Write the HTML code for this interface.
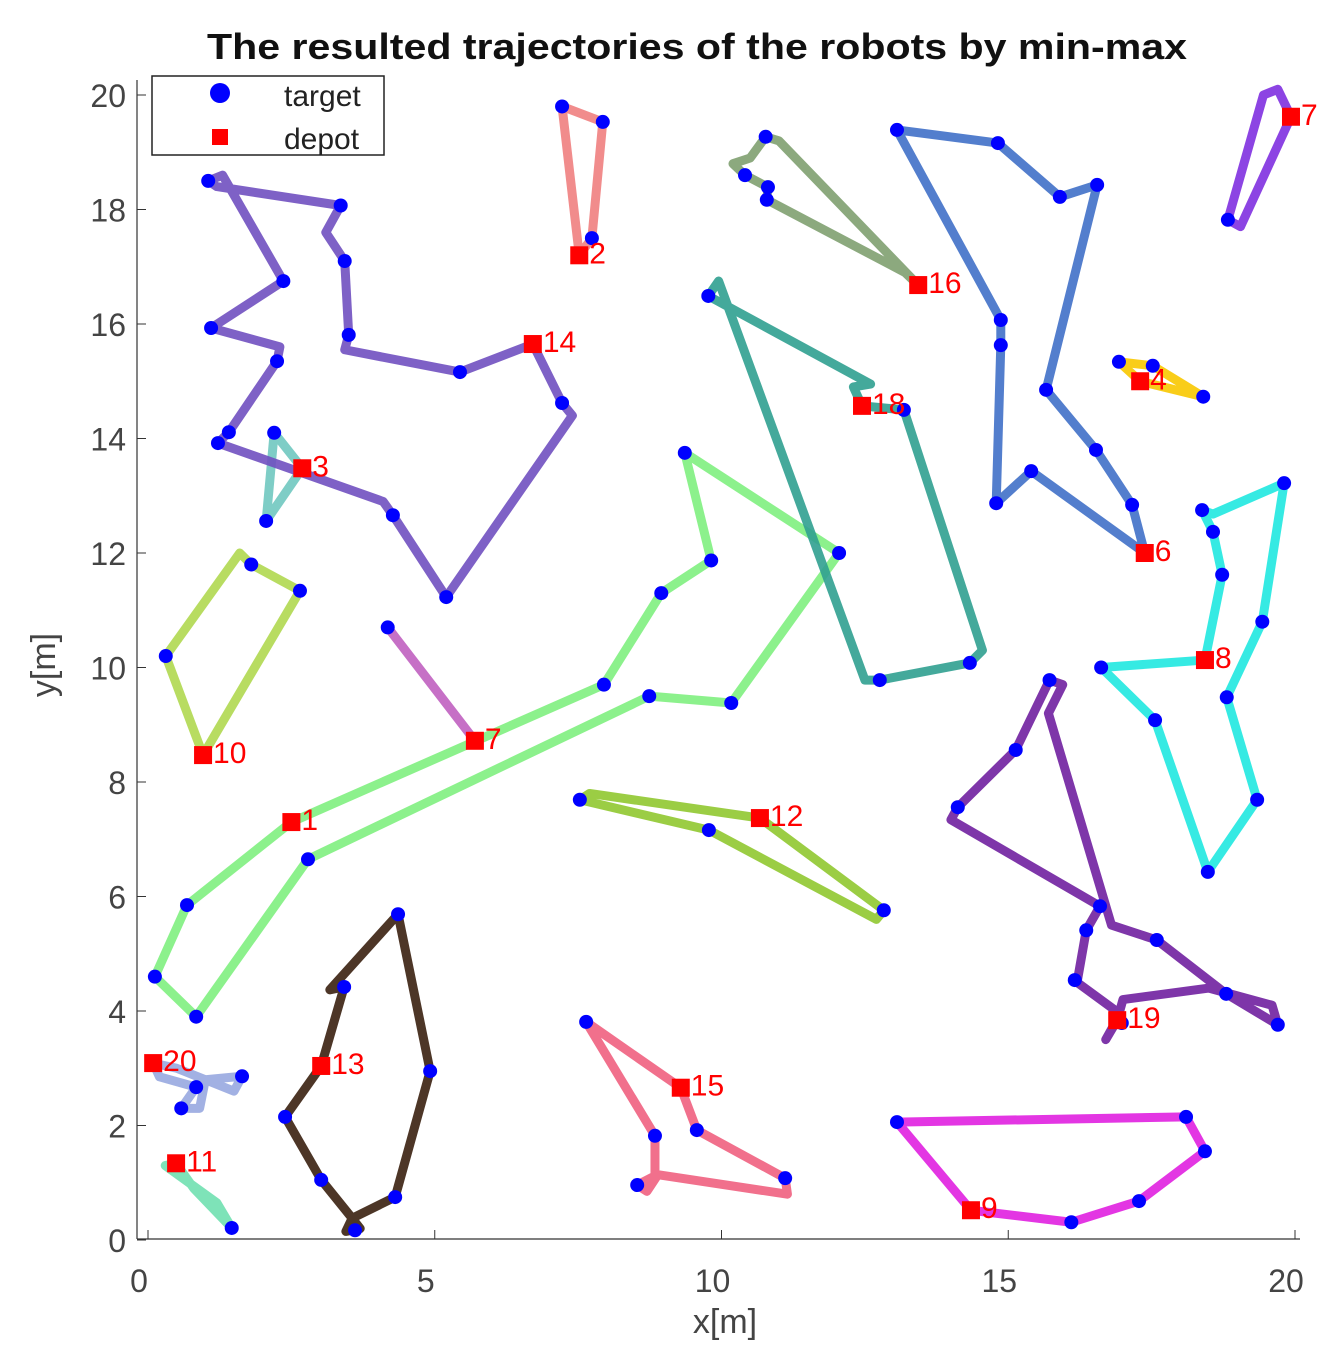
<!DOCTYPE html>
<html><head><meta charset="utf-8"><style>
body{margin:0;background:#fff;}
svg{display:block;font-family:"Liberation Sans",sans-serif;}
</style></head><body>
<svg id="chart" width="1344" height="1363" viewBox="0 0 1344 1363" xmlns="http://www.w3.org/2000/svg">
<rect width="1344" height="1363" fill="#fff"/>
<text x="697" y="59" text-anchor="middle" font-size="36" font-weight="bold" fill="#111" textLength="980" lengthAdjust="spacingAndGlyphs">The resulted trajectories of the robots by min-max</text>
<g id="axes"></g>
<g id="paths"></g>
<g id="targets"></g>
<g id="depots"></g>
<g>
<rect x="152" y="76" width="232" height="79" fill="#fff" stroke="#222" stroke-width="1.5"/>
<circle cx="220" cy="93" r="10" fill="#0000ff"/>
<text x="284" y="106" font-size="30" fill="#222">target</text>
<rect x="212" y="129" width="16" height="16" fill="#f00"/>
<text x="284" y="149" font-size="30" fill="#222">depot</text>
</g>
<text x="725" y="1333" text-anchor="middle" font-size="34" fill="#444">x[m]</text>
<text transform="translate(55,665) rotate(-90)" text-anchor="middle" font-size="34" fill="#444">y[m]</text>
</svg>
<script>
const xTicks=[0,5,10,15,20];
const yTicks=[0,2,4,6,8,10,12,14,16,18,20];
const robotIds=["1","2","3","4","6","7","7b","8","9","10","11","12","13","14","15","16","18","19","20"];
const robotLabels=["1","2","3","4","6","7","7","8","9","10","11","12","13","14","15","16","18","19","20"];
const robotColors=["#80f080","#f08080","#70c8c0","#f8c800","#4070c8","#8030e0","#c060c0","#20e8e0","#e020e0","#b0d850","#70e0b0","#90c830","#3a2010","#7050c0","#f06080","#80a070","#30a090","#7020a0","#98a8e0"];
const depots=[[2.5,7.3],[7.52,17.2],[2.69,13.48],[17.3,15.0],[17.38,12.0],[19.93,19.62],[5.7,8.72],[18.43,10.13],[14.35,0.52],[0.96,8.47],[0.49,1.34],[10.67,7.37],[3.02,3.04],[6.71,15.65],[9.29,2.66],[13.43,16.68],[12.45,14.57],[16.9,3.84],[0.09,3.09]];
const paths=[
[[2.5,7.3],[0.68,5.85],[0.12,4.6],[0.84,3.9],[2.79,6.65],[8.74,9.5],[10.17,9.38],[12.05,12.0],[9.36,13.75],[9.82,11.87],[8.95,11.3],[7.95,9.7],[2.5,7.3]],
[[7.52,17.2],[7.74,17.5],[7.93,19.53],[7.22,19.8],[7.52,17.2]],
[[2.69,13.48],[2.2,14.1],[2.06,12.56],[2.69,13.48]],
[[17.3,15.0],[16.93,15.34],[17.52,15.27],[18.4,14.73],[17.3,15.0]],
[[17.38,12.0],[17.16,12.84],[16.53,13.8],[15.66,14.85],[16.55,18.43],[15.9,18.22],[14.82,19.16],[13.06,19.39],[14.87,16.07],[14.87,15.63],[14.79,12.87],[15.4,13.43],[17.38,12.0]],
[[19.93,19.62],[19.7,20.1],[19.45,20.0],[18.83,17.82],[19.05,17.7],[19.93,19.62]],
[[5.7,8.72],[4.18,10.7],[5.7,8.72]],
[[18.43,10.13],[16.62,10.0],[17.56,9.08],[18.48,6.43],[19.34,7.69],[18.81,9.48],[19.43,10.8],[19.81,13.22],[18.57,12.68],[18.38,12.75],[18.57,12.37],[18.73,11.62],[18.43,10.13]],
[[14.35,0.52],[16.1,0.31],[17.28,0.68],[18.43,1.55],[18.1,2.15],[13.06,2.06],[14.35,0.52]],
[[0.96,8.47],[0.31,10.2],[1.6,12.0],[1.8,11.8],[2.65,11.34],[0.96,8.47]],
[[0.49,1.34],[0.3,1.3],[1.2,0.65],[1.46,0.21],[0.8,0.9],[0.49,1.34]],
[[10.67,7.37],[12.83,5.76],[12.7,5.6],[9.78,7.16],[7.53,7.69],[7.7,7.8],[10.67,7.37]],
[[3.02,3.04],[2.39,2.15],[3.02,1.05],[3.56,0.38],[3.45,0.15],[3.7,0.2],[3.56,0.38],[4.31,0.75],[4.92,2.95],[4.36,5.69],[3.17,4.37],[3.42,4.42],[3.02,3.04]],
[[6.71,15.65],[7.22,14.62],[7.4,14.4],[5.2,11.23],[4.27,12.66],[4.1,12.9],[1.22,13.92],[1.41,14.11],[2.25,15.35],[2.3,15.6],[1.1,15.93],[2.36,16.75],[1.3,18.6],[1.05,18.5],[1.2,18.4],[3.36,18.07],[3.1,17.6],[3.43,17.1],[3.5,15.81],[3.43,15.55],[5.44,15.16],[6.71,15.65]],
[[9.29,2.66],[9.57,1.92],[11.11,1.08],[11.15,0.8],[8.89,1.14],[8.7,0.85],[8.53,0.96],[8.84,1.12],[8.84,1.82],[7.64,3.81],[9.29,2.66]],
[[13.43,16.68],[13.2,16.9],[10.79,18.17],[10.81,18.39],[10.41,18.6],[10.2,18.8],[10.5,18.9],[10.77,19.27],[11.0,19.2],[13.43,16.68]],
[[12.45,14.57],[12.3,14.9],[12.6,14.95],[9.77,16.49],[9.95,16.75],[12.5,9.78],[12.76,9.78],[14.33,10.08],[14.55,10.3],[13.18,14.5],[12.45,14.57]],
[[16.9,3.84],[16.7,3.5],[16.95,3.95],[16.2,4.5],[16.36,5.41],[16.6,5.83],[14.0,7.34],[14.12,7.56],[15.13,8.56],[15.72,9.78],[15.95,9.7],[15.7,9.2],[16.8,5.5],[17.59,5.24],[18.8,4.3],[19.7,3.76],[19.6,4.1],[18.5,4.4],[17.0,4.2],[16.9,3.84]],
[[0.09,3.09],[0.2,2.85],[0.84,2.67],[0.58,2.3],[0.9,2.3],[1.0,2.8],[1.64,2.86],[1.5,2.6],[0.5,3.0],[0.09,3.09]]
];
const targets=[[0.68,5.85],[0.12,4.6],[0.84,3.9],[2.79,6.65],[8.74,9.5],[10.17,9.38],[12.05,12.0],[9.36,13.75],[9.82,11.87],[8.95,11.3],[7.95,9.7],
[7.74,17.5],[7.93,19.53],[7.22,19.8],[2.2,14.1],[2.06,12.56],[16.93,15.34],[17.52,15.27],[18.4,14.73],
[17.16,12.84],[16.53,13.8],[15.66,14.85],[16.55,18.43],[15.9,18.22],[14.82,19.16],[13.06,19.39],[14.87,16.07],[14.87,15.63],[14.79,12.87],[15.4,13.43],
[18.83,17.82],[4.18,10.7],[16.62,10.0],[17.56,9.08],[18.48,6.43],[19.34,7.69],[18.81,9.48],[19.43,10.8],[19.81,13.22],[18.38,12.75],[18.57,12.37],[18.73,11.62],
[16.1,0.31],[17.28,0.68],[18.43,1.55],[18.1,2.15],[13.06,2.06],[0.31,10.2],[1.8,11.8],[2.65,11.34],[1.46,0.21],
[12.83,5.76],[9.78,7.16],[7.53,7.69],[2.39,2.15],[3.02,1.05],[3.61,0.17],[4.31,0.75],[4.92,2.95],[4.36,5.69],[3.42,4.42],
[7.22,14.62],[5.2,11.23],[4.27,12.66],[1.22,13.92],[1.41,14.11],[2.25,15.35],[1.1,15.93],[2.36,16.75],[1.05,18.5],[3.36,18.07],[3.43,17.1],[3.5,15.81],[5.44,15.16],
[9.57,1.92],[11.11,1.08],[8.53,0.96],[8.84,1.82],[7.64,3.81],[10.79,18.17],[10.81,18.39],[10.41,18.6],[10.77,19.27],
[9.77,16.49],[12.76,9.78],[14.33,10.08],[13.18,14.5],
[16.98,3.79],[16.16,4.54],[16.36,5.41],[16.6,5.83],[14.12,7.56],[15.13,8.56],[15.72,9.78],[17.59,5.24],[18.8,4.3],[19.7,3.76],
[0.84,2.67],[0.58,2.3],[1.64,2.86]];

const X=v=>148+v*57.35, Y=v=>1240-v*57.25;
const NS="http://www.w3.org/2000/svg";
function mk(tag,attrs,parent){const e=document.createElementNS(NS,tag);for(const k in attrs)e.setAttribute(k,attrs[k]);parent.appendChild(e);return e;}
const ax=document.getElementById('axes');
const xl=mk('line',{x1:137,y1:1239,x2:1300,y2:1239,stroke:'#333','stroke-width':1.2},ax);


const yl=mk('line',{x1:137,y1:1239,x2:137,y2:80,stroke:'#333','stroke-width':1.2},ax);


xTicks.forEach(t=>{
 mk('line',{x1:X(t),y1:1239,x2:X(t),y2:1230,stroke:'#333','stroke-width':1},ax);
 const tx=mk('text',{x:X(t)-9,y:1292,'text-anchor':'middle','font-size':32,fill:'#444'},ax);
 tx.textContent=t;
 
 
});
yTicks.forEach(t=>{
 mk('line',{x1:137,y1:Y(t),x2:146,y2:Y(t),stroke:'#333','stroke-width':1},ax);
 const tx=mk('text',{x:126,y:Y(t)+12,'text-anchor':'end','font-size':32,fill:'#444'},ax);
 tx.textContent=t;
 
 
});
const pg=document.getElementById('paths');
paths.forEach((p,i)=>{
 const pl=mk('polyline',{points:p.map(q=>X(q[0])+','+Y(q[1])).join(' '),fill:'none',stroke:robotColors[i],'stroke-width':9,'stroke-linejoin':'round','stroke-linecap':'round','stroke-opacity':0.9},pg);
 
 
});
const tg=document.getElementById('targets');
targets.forEach(t=>{
 const c=mk('circle',{cx:X(t[0]),cy:Y(t[1]),r:7,fill:'#0000ff'},tg);
 
 
});
const dg=document.getElementById('depots');
depots.forEach((d,i)=>{
 const r=mk('rect',{x:X(d[0])-9,y:Y(d[1])-9,width:18,height:18,fill:'#f00'},dg);
 
 
 const t=mk('text',{x:X(d[0])+10,y:Y(d[1])+8,'font-size':30,fill:'#f00'},dg);
 t.textContent=robotLabels[i];
 
 
});
</script>
</body></html>
